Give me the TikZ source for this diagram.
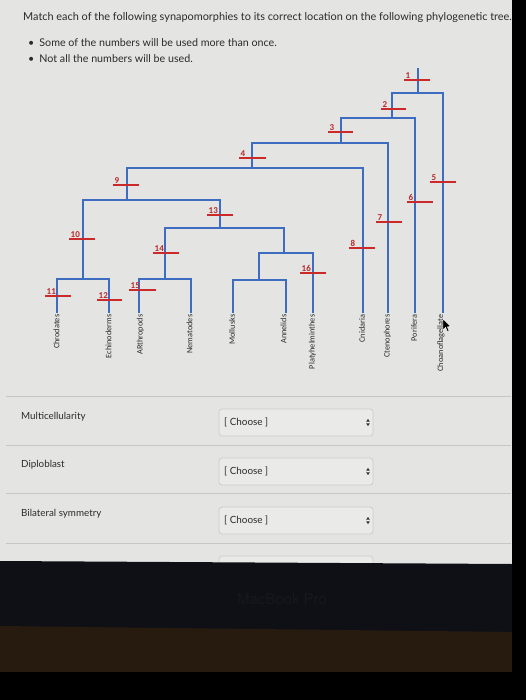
\documentclass[tikz,border=0pt]{standalone}
\usepackage{fontspec}
\setmainfont{Lato}
\newfontfamily\treefont{Carlito}
\newfontfamily\macfont{TeX Gyre Heros}
\definecolor{screen}{HTML}{E4E5E3}
\definecolor{treeblue}{HTML}{3D6CC0}
\definecolor{tickred}{HTML}{CC2A2A}
\definecolor{numred}{HTML}{B8282C}
\definecolor{sepline}{HTML}{C6C7C5}
\definecolor{boxline}{HTML}{CDCECC}
\definecolor{boxfill}{HTML}{EAEBE9}
\definecolor{txt}{HTML}{2A2A2A}
\definecolor{bezel}{HTML}{0F1015}
\definecolor{brownband}{HTML}{271B0F}
\definecolor{macgray}{HTML}{17181D}
\begin{document}
\begin{tikzpicture}[x=1pt,y=-1pt,
  br/.style={draw=treeblue,line width=2.7pt,line join=miter},
  tk/.style={draw=tickred,line width=2.3pt},
  num/.style={anchor=south west,inner sep=0pt,text=numred,font=\treefont\bfseries\fontsize{9}{10}\selectfont},
  leaf/.style={anchor=east,rotate=90,inner sep=0pt,text=txt,font=\treefont\fontsize{8.3}{9}\selectfont},
  flabel/.style={anchor=west,inner sep=0pt,text=txt,font=\fontsize{9.8}{11}\selectfont},
  selbox/.style={draw=boxline,fill=boxfill,rounded corners=3pt,line width=0.8pt},
  seltext/.style={anchor=west,inner sep=0pt,text=txt,font=\fontsize{9.9}{11}\selectfont},
  sep/.style={draw=sepline,line width=0.8pt}]
\useasboundingbox (0,0) rectangle (526,700);
% screen
\fill[screen] (0,0) rectangle (512,564);
% title and bullets
\node[anchor=base west,inner sep=0pt,text=txt,font=\fontsize{10.9}{12}\selectfont] (title) at (23,21)
  {Match each of the following synapomorphies to its correct location on the following phylogenetic tree.};
\node[anchor=base west,inner sep=0pt,text=txt,font=\fontsize{10.7}{12}\selectfont] (b1) at (28,47)
  {\textbullet\hspace{5pt}Some of the numbers will be used more than once.};
\node[anchor=base west,inner sep=0pt,text=txt,font=\fontsize{10.7}{12}\selectfont] (b2) at (28,63)
  {\textbullet\hspace{5pt}Not all the numbers will be used.};
% ---------- tree coordinates ----------
\coordinate (Ch) at (57,313);
\coordinate (Ec) at (109,313);
\coordinate (Ar) at (139,313);
\coordinate (Ne) at (191,313);
\coordinate (Mo) at (233,313);
\coordinate (An) at (286,313);
\coordinate (Pl) at (313,313);
\coordinate (Cn) at (363,313);
\coordinate (Ct) at (388,313);
\coordinate (Po) at (415,313);
\coordinate (Cf) at (443,313);
\coordinate (Jdeu) at (83,279);
\coordinate (Jecd) at (165,279);
\coordinate (Jma) at (259,280);
\coordinate (Jlop) at (284,253);
\coordinate (Jpro) at (220,228);
\coordinate (Jbil) at (127,200);
\coordinate (Jeum) at (252,168);
\coordinate (Jthr) at (341,143);
\coordinate (Jtwo) at (392,118);
\coordinate (Jone) at (418,93);
\coordinate (Root) at (418,68);
% ---------- branches ----------
\draw[br] (Ch) |- (Jdeu) -| (Ec);
\draw[br] (Ar) |- (Jecd) -| (Ne);
\draw[br] (Mo) |- (Jma) -| (An);
\draw[br] (Jma) |- (Jlop) -| (Pl);
\draw[br] (Jecd) |- (Jpro) -| (Jlop);
\draw[br] (Jdeu) |- (Jbil) -| (Jpro);
\draw[br] (Jbil) |- (Jeum) -| (Cn);
\draw[br] (Jeum) |- (Jthr) -| (Ct);
\draw[br] (Jthr) |- (Jtwo) -| (Po);
\draw[br] (Jtwo) |- (Jone) -| (Cf);
\draw[br] (Jone) -- (Root);
% ---------- ticks and numbers ----------
\foreach \n/\xa/\xb/\y in {1/404/430/80, 2/381/406/109, 3/328/353/132, 4/239/266/158,
  5/430/456/182, 6/407/433/202, 7/376/402/222, 8/349/375/248, 9/113/139/185,
  10/69/95/239, 11/45/71/296, 12/97/122/300, 13/207/233/215, 14/153/179/253,
  15/129/156/290, 16/300/326/273}{
  \coordinate (t\n a) at (\xa,\y);
  \coordinate (t\n b) at (\xb,\y);
  \draw[tk] (t\n a) -- (t\n b);
  \node[num] (n\n) at ([xshift=1.5pt,yshift=1.6pt]t\n a) {\n};
}
% ---------- leaf labels ----------
\node[leaf] (lCh) at (56.5,314.5) {Chrodates};
\node[leaf] (lEc) at (108.5,314.5) {Echinoderms};
\node[leaf] (lAr) at (140.5,314.5) {ARthropods};
\node[leaf] (lNe) at (189.5,314.5) {Nematodes};
\node[leaf] (lMo) at (232,314.5) {Mollusks};
\node[leaf] (lAn) at (283.5,314.5) {Annelids};
\node[leaf] (lPl) at (312.5,314.5) {Platyhelminthes};
\node[leaf] (lCn) at (362,314.5) {Cnidaria};
\node[leaf] (lCt) at (387.5,314.5) {Ctenophores};
\node[leaf] (lPo) at (414,314.5) {Porifera};
\node[leaf] (lCf) at (441,314.5) {Choanoflagellate};
% mouse cursor
\filldraw[fill=black,draw=white,line width=0.4pt] (443,319) -- (443,330) -- (445.6,327.4) -- (447.4,331.5) -- (449,330.8) -- (447.3,326.8) -- (450.8,326.6) -- cycle;
% ---------- form ----------
\foreach \y/\k in {396/a,445/b,493/c,543/d}{
  \coordinate (s\k l) at (6,\y); \coordinate (s\k r) at (511,\y);
  \draw[sep] (s\k l) -- (s\k r);
}
\node[flabel] (q1) at (21,417) {Multicellularity};
\node[flabel] (q2) at (21,465) {Diploblast};
\node[flabel] (q3) at (21,514) {Bilateral symmetry};
\foreach \ya/\yb/\k in {409/436/1,458/485/2,507/534/3}{
  \draw[selbox] (219,\ya) rectangle (373,\yb);
  \node[seltext] (c\k) at (224,{(\ya+\yb)/2}) {[ Choose ]};
  \fill[txt] (366.2,{(\ya+\yb)/2-0.8}) -- (369.8,{(\ya+\yb)/2-0.8}) -- (368,{(\ya+\yb)/2-3.6}) -- cycle;
  \fill[txt] (366.2,{(\ya+\yb)/2+0.8}) -- (369.8,{(\ya+\yb)/2+0.8}) -- (368,{(\ya+\yb)/2+3.6}) -- cycle;
}
\begin{scope}
  \clip (0,0) rectangle (512,562);
  \draw[selbox] (219,556) rectangle (373,583);
\end{scope}
% ---------- laptop bezel ----------
\fill[bezel] (0,561) -- (512,564) -- (512,700) -- (0,700) -- cycle;
\fill[brownband] (0,626) -- (512,632) -- (512,672) -- (0,672) -- cycle;
\fill[black] (0,672) rectangle (526,700);
\fill[black] (512,0) rectangle (526,700);
\node[text=macgray,font=\macfont\fontsize{15}{17}\selectfont,inner sep=0pt] (mac) at (282,599) {MacBook Pro};
\end{tikzpicture}
\end{document}
